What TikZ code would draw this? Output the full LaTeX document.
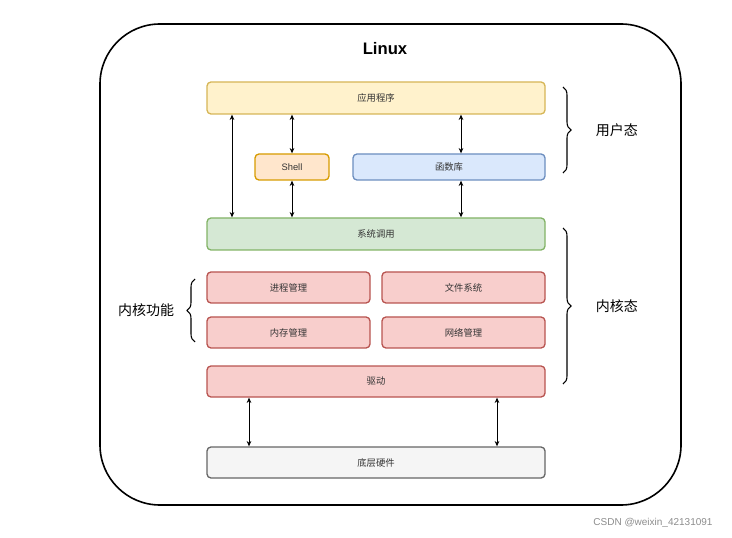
\documentclass[tikz,border=0pt]{standalone}
\usepackage{fontspec}
\setmainfont{Noto Sans CJK SC}
\newfontfamily\latinfont{Liberation Sans}
\usetikzlibrary{arrows.meta,decorations.pathreplacing}

\definecolor{appfill}{HTML}{FFF2CC}\definecolor{appline}{HTML}{D6B656}
\definecolor{shfill}{HTML}{FFE6CC}\definecolor{shline}{HTML}{D79B00}
\definecolor{libfill}{HTML}{DAE8FC}\definecolor{libline}{HTML}{6C8EBF}
\definecolor{sysfill}{HTML}{D5E8D4}\definecolor{sysline}{HTML}{82B366}
\definecolor{kfill}{HTML}{F8CECC}\definecolor{kline}{HTML}{B85450}
\definecolor{hwfill}{HTML}{F5F5F5}\definecolor{hwline}{HTML}{666666}

\tikzset{
  box/.style={draw, rounded corners=3pt, line width=1pt, inner sep=0pt,
    font=\fontsize{7}{8}\selectfont, text=black!80},
  wide/.style={box, minimum width=253.5pt, minimum height=24pt},
  half/.style={box, minimum width=122.25pt, minimum height=23.25pt, fill=kfill, draw=kline},
  arr/.style={{Stealth[length=4pt,width=3.5pt]}-{Stealth[length=4pt,width=3.5pt]}, line width=0.6pt},
  brc/.style={decorate, decoration={brace, amplitude=6pt}, line width=0.8pt},
  side/.style={font=\fontsize{10.5}{12}\selectfont}
}

\begin{document}
\begin{tikzpicture}[x=0.75pt, y=-0.75pt]
  \useasboundingbox (0,0) rectangle (732,538);

  % Outer frame
  \draw[line width=1.2pt, rounded corners=45pt] (100,24) rectangle (681,505);
  \node (title) at (385,49) {\latinfont\bfseries\fontsize{12.5}{14}\selectfont Linux};

  % User space
  \node[wide, fill=appfill, draw=appline] (app) at (376,98) {应用程序};
  \node[box, fill=shfill, draw=shline, minimum width=55.5pt, minimum height=19.5pt] (shell) at (292,167) {\latinfont Shell};
  \node[box, fill=libfill, draw=libline, minimum width=144pt, minimum height=19.5pt] (lib) at (449,167) {函数库};

  % Kernel space
  \node[wide, fill=sysfill, draw=sysline] (sys) at (376,234) {系统调用};
  \node[half] (proc) at (288.5,287.5) {进程管理};
  \node[half] (fs) at (463.5,287.5) {文件系统};
  \node[half] (mem) at (288.5,332.5) {内存管理};
  \node[half] (net) at (463.5,332.5) {网络管理};
  \node[wide, fill=kfill, draw=kline, minimum height=23.25pt] (drv) at (376,381.5) {驱动};

  % Hardware
  \node[wide, fill=hwfill, draw=hwline, minimum height=23.25pt] (hw) at (376,462.5) {底层硬件};

  % Arrows
  \draw[arr] (sys.north -| 232,0) -- (app.south -| 232,0);
  \draw[arr] (shell.north) -- (app.south -| shell.north);
  \draw[arr] (shell.south) -- (sys.north -| shell.south);
  \draw[arr] (lib.north -| 461,0) -- (app.south -| 461,0);
  \draw[arr] (lib.south -| 461,0) -- (sys.north -| 461,0);
  \draw[arr] (drv.south -| 249,0) -- (hw.north -| 249,0);
  \draw[arr] (drv.south -| 497,0) -- (hw.north -| 497,0);

  % Braces
  \draw[brc] (563,87) -- (563,173) node[midway, right=21pt, side] (user) {用户态};
  \draw[brc] (563,228) -- (563,384) node[midway, right=21pt, side] (kern) {内核态};
  \draw[brc] (195,342) -- (195,279) node[midway, left=12pt, side] (func) {内核功能};

  % Watermark
  \node[text=black!45, font=\latinfont\fontsize{7.5}{9}\selectfont] (mark) at (653,523) {CSDN @weixin\_42131091};
\end{tikzpicture}
\end{document}
